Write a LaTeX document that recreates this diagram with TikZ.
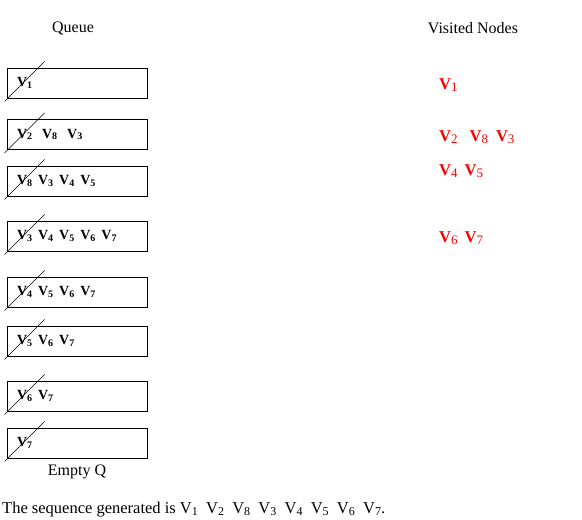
\documentclass[tikz,border=0pt]{standalone}
\usepackage{fontspec}
\setmainfont{Liberation Serif}
\newcommand\qv[1]{\textbf{V}{\fontsize{10}{11}\selectfont\bfseries\raisebox{-0.3ex}{#1}}}
\newcommand\rv[1]{\textbf{V}{\fontsize{13}{14}\selectfont\raisebox{-0.35ex}{#1}}}
\newcommand\sv[1]{V{\fontsize{12}{13}\selectfont\raisebox{-0.2ex}{#1}}}
\newcommand\qg{\hspace{6pt}}
\begin{document}
\begin{tikzpicture}[x=1pt,y=-1pt,
  qbox/.style={draw, line width=0.8pt, minimum width=140pt, minimum height=30pt,
    text width=120pt, inner xsep=10pt, inner ysep=0pt, align=left,
    font=\fontsize{14}{16}\selectfont},
  strike/.style={line width=0.6pt},
  label/.style={font=\fontsize{16}{18}\selectfont, inner sep=0pt},
  visited/.style={font=\fontsize{16.5}{18}\selectfont, text=red, inner sep=0pt, anchor=west}]
\useasboundingbox (0,0) rectangle (582,520);
\node[label] (queue) at (73,28) {Queue};
\node[label] (visited) at (473,28) {Visited Nodes};

\node[qbox] (q1) at (77,83) {\qv{1}};
\node[qbox] (q2) at (77,134.5) {\qv{2}\hspace{10pt}\qv{8}\hspace{10pt}\qv{3}};
\node[qbox] (q3) at (77,181) {\qv{8}\qg\qv{3}\qg\qv{4}\qg\qv{5}};
\node[qbox] (q4) at (77,236) {\qv{3}\qg\qv{4}\qg\qv{5}\qg\qv{6}\qg\qv{7}};
\node[qbox] (q5) at (77,292) {\qv{4}\qg\qv{5}\qg\qv{6}\qg\qv{7}};
\node[qbox] (q6) at (77,341) {\qv{5}\qg\qv{6}\qg\qv{7}};
\node[qbox] (q7) at (77,396) {\qv{6}\qg\qv{7}};
\node[qbox] (q8) at (77,443) {\qv{7}};

\foreach \q in {q1,q2,q3,q4,q5,q6,q7,q8}
  \draw[strike] ([shift={(-2,3)}]\q.south west) -- ++(40,-40);

\node[label] (empty) at (77,472) {Empty Q};

\node[visited] (v1) at (439,85) {\rv{1}};
\node[visited] (v283) at (439,137) {\rv{2}\hspace{12pt}\rv{8}\hspace{8pt}\rv{3}};
\node[visited] (v45) at (439,171) {\rv{4}\hspace{7pt}\rv{5}};
\node[visited] (v67) at (439,238) {\rv{6}\hspace{7pt}\rv{7}};

\node[label, anchor=west, font=\fontsize{16.5}{18}\selectfont] (seq) at (2,510) {The sequence generated is \sv{1}\ \ \sv{2}\ \ \sv{8}\ \ \sv{3}\ \ \sv{4}\ \ \sv{5}\ \ \sv{6}\ \ \sv{7}.};
\end{tikzpicture}
\end{document}
